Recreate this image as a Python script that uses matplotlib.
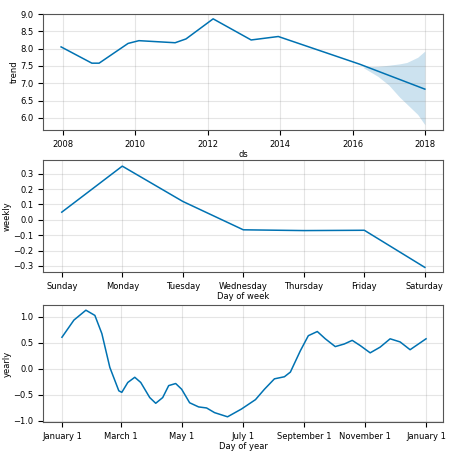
import matplotlib
matplotlib.use("Agg")
import matplotlib.pyplot as plt

trend_x = [2007.95, 2008.8, 2009.0, 2009.8, 2010.1, 2011.1, 2011.4, 2012.15, 2013.2, 2013.95, 2016.2, 2018.0]
trend_y = [8.05, 7.58, 7.58, 8.15, 8.23, 8.17, 8.28, 8.86, 8.25, 8.35, 7.55, 6.83]
unc_x = [2016.3, 2016.7, 2017.0, 2017.3, 2017.5, 2017.8, 2018.0]
unc_hi = [7.47, 7.49, 7.52, 7.56, 7.6, 7.75, 7.93]
unc_lo = [7.45, 7.2, 6.95, 6.6, 6.4, 6.1, 5.8]

days = ["Sunday", "Monday", "Tuesday", "Wednesday", "Thursday", "Friday", "Saturday"]
weekly = [0.05, 0.35, 0.12, -0.065, -0.07, -0.068, -0.31]

yd = [0, 12, 24, 33, 40, 48, 57, 60, 66, 73, 79, 88, 94, 101, 107, 114, 120, 128, 137, 145, 153, 166,
      180, 194, 203, 213, 223, 229, 239, 247, 256, 264, 274, 283, 291, 299, 309, 319, 329, 339, 349, 365]
yv = [0.61, 0.94, 1.13, 1.03, 0.68, 0.03, -0.42, -0.45, -0.26, -0.16, -0.26, -0.55, -0.66, -0.55, -0.32,
      -0.28, -0.39, -0.65, -0.73, -0.75, -0.84, -0.92, -0.77, -0.59, -0.39, -0.19, -0.15, -0.06, 0.35,
      0.64, 0.72, 0.58, 0.43, 0.48, 0.55, 0.45, 0.31, 0.42, 0.58, 0.52, 0.37, 0.58]
month_ticks = [0, 59, 120, 181, 243, 304, 365]
month_labels = ["January 1", "March 1", "May 1", "July 1", "September 1", "November 1", "January 1"]

plt.rcParams['font.size'] = 6
fig = plt.figure(figsize=(4.74, 4.53), dpi=100)
c = '#0072B2'
W = 400/474
L = 43/474

def mkax(top, bot):
    return fig.add_axes([L, 1-bot/453, W, (bot-top)/453])

def style(ax):
    ax.grid(True, which='major', c='gray', ls='-', lw=0.8, alpha=0.2)
    for s in ax.spines.values():
        s.set_color('#555555')

ax1 = mkax(14, 130)
ax1.plot(trend_x, trend_y, c=c, lw=1.1)
ax1.fill_between(unc_x, unc_lo, unc_hi, color=c, alpha=0.2, lw=0)
ax1.set_xlim(2007.45, 2018.5)
ax1.set_ylim(5.65, 9.0)
ax1.set_xticks(range(2008, 2019, 2))
ax1.set_yticks([6.0, 6.5, 7.0, 7.5, 8.0, 8.5, 9.0])
ax1.set_xlabel('ds', labelpad=1)
ax1.set_ylabel('trend', labelpad=1)
style(ax1)

ax2 = mkax(160, 272)
ax2.plot(range(7), weekly, c=c, lw=1.1)
ax2.set_xlim(-0.31, 6.3)
ax2.set_ylim(-0.34, 0.39)
ax2.set_xticks(range(7))
ax2.set_xticklabels(days)
ax2.set_yticks([-0.3, -0.2, -0.1, 0.0, 0.1, 0.2, 0.3])
ax2.set_xlabel('Day of week', labelpad=1)
ax2.set_ylabel('weekly', labelpad=1)
style(ax2)

ax3 = mkax(305, 422)
ax3.plot(yd, yv, c=c, lw=1.1)
ax3.set_xlim(-19, 382)
ax3.set_ylim(-1.02, 1.23)
ax3.set_xticks(month_ticks)
ax3.set_xticklabels(month_labels)
ax3.set_yticks([-1.0, -0.5, 0.0, 0.5, 1.0])
ax3.set_xlabel('Day of year', labelpad=1)
ax3.set_ylabel('yearly', labelpad=1)
style(ax3)

fig.savefig('out.png', dpi=100)
